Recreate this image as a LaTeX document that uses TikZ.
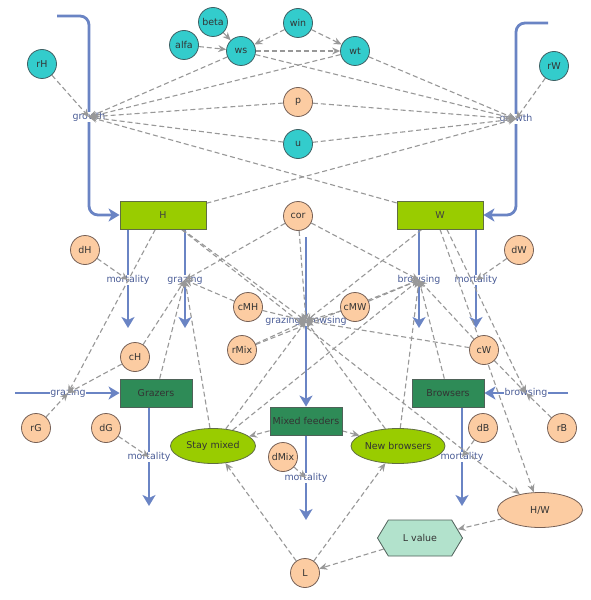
\documentclass[tikz,border=0pt]{standalone}
\usepackage{fontspec}
\setmainfont{DejaVu Sans}
\usetikzlibrary{arrows.meta,shapes.geometric,shapes.symbols}
\definecolor{teal1}{RGB}{51,204,204}
\definecolor{tealb}{RGB}{62,96,100}
\definecolor{peach}{RGB}{252,204,162}
\definecolor{peachb}{RGB}{118,96,86}
\definecolor{lime}{RGB}{153,204,0}
\definecolor{limeb}{RGB}{96,110,66}
\definecolor{dgreen}{RGB}{46,139,87}
\definecolor{dgreenb}{RGB}{78,98,88}
\definecolor{mint}{RGB}{178,226,204}
\definecolor{mintb}{RGB}{80,96,90}
\definecolor{flowc}{RGB}{106,132,196}
\definecolor{linkc}{RGB}{152,152,152}
\definecolor{lblc}{RGB}{74,92,150}
\pgfdeclarelayer{paper}
\pgfdeclarelayer{flows}
\pgfdeclarelayer{labels}
\pgfdeclarelayer{links}
\pgfsetlayers{paper,flows,labels,links,main}
\begin{document}
\begin{tikzpicture}[x=1bp,y=-1bp,
  font=\fontsize{9.5}{11}\selectfont,
  basecirc/.style={circle,line width=0.8bp,minimum size=29bp,inner sep=0pt,text=black!80},
  tcirc/.style={basecirc,draw=tealb,fill=teal1},
  pcirc/.style={basecirc,draw=peachb,fill=peach},
  stockbox/.style={rectangle,draw=limeb,fill=lime,line width=0.8bp,minimum width=86bp,minimum height=28bp,text=black!75},
  popbox/.style={rectangle,draw=dgreenb,fill=dgreen,line width=0.8bp,minimum width=72bp,minimum height=28bp,inner xsep=1bp,text=black!80},
  limeell/.style={ellipse,draw=limeb,fill=lime,line width=0.8bp,minimum width=85bp,minimum height=35bp,inner sep=0pt,text=black!80},
  peachell/.style={ellipse,draw=peachb,fill=peach,line width=0.8bp,minimum width=85bp,minimum height=35bp,inner sep=0pt,text=black!80},
  hexnode/.style={signal,signal to=west and east,signal pointer angle=118,draw=mintb,fill=mint,line width=0.8bp,minimum width=85bp,minimum height=36bp,inner sep=0pt,text=black!80},
  flow/.style={draw=flowc,line width=2.8bp,rounded corners=9bp,-{Stealth[length=11bp,width=13bp,inset=3bp]}},
  flowlbl/.style={fill=white,inner sep=0.6bp,text=lblc},
  link/.style={draw=linkc,line width=1.1bp,dash pattern=on 5bp off 3bp,-{Stealth[length=8bp,width=7bp]}}
]
\begin{pgfonlayer}{paper}
\fill[white] (0,0) rectangle (591,600);
\end{pgfonlayer}
\useasboundingbox (0,0) rectangle (591,600);

% ---------- nodes ----------
\node[tcirc] (rH) at (42,64) {rH};
\node[tcirc] (beta) at (213,22) {beta};
\node[tcirc] (alfa) at (184,45) {alfa};
\node[tcirc] (ws) at (241,51) {ws};
\node[tcirc] (win) at (298,23) {win};
\node[tcirc] (wt) at (355,51) {wt};
\node[tcirc] (rW) at (554,66) {rW};
\node[pcirc] (p) at (298,102) {p};
\node[tcirc] (u) at (298,144) {u};
\node[pcirc] (cor) at (298,216) {cor};
\node[pcirc] (dH) at (85,250) {dH};
\node[pcirc] (dW) at (519,250) {dW};
\node[pcirc] (cMH) at (248,307) {cMH};
\node[pcirc] (cMW) at (355,307) {cMW};
\node[pcirc] (rMix) at (242,350) {rMix};
\node[pcirc] (cH) at (135,357) {cH};
\node[pcirc] (cW) at (484,350) {cW};
\node[pcirc] (rG) at (36,428) {rG};
\node[pcirc] (dG) at (106,428) {dG};
\node[pcirc] (dMix) at (283,457) {dMix};
\node[pcirc] (dB) at (483,428) {dB};
\node[pcirc] (rB) at (562,428) {rB};
\node[pcirc] (L) at (305,573) {L};

\node[stockbox] (H) at (163,215) {H};
\node[stockbox] (W) at (440,215) {W};
\node[popbox] (Grazers) at (156,393) {Grazers};
\node[popbox] (MF) at (306,421) {Mixed feeders};
\node[popbox] (Browsers) at (448,393) {Browsers};
\node[limeell] (SM) at (213,446) {Stay mixed};
\node[limeell] (NB) at (398,446) {New browsers};
\node[peachell] (HW) at (540,510) {H/W};
\node[hexnode] (Lval) at (420,538) {L value};

% ---------- valve coordinates ----------
\coordinate (gL) at (89,117);
\coordinate (gR) at (516,119);
\coordinate (mortH) at (128,280);
\coordinate (grazH) at (185,280);
\coordinate (browsW) at (419,280);
\coordinate (mortW) at (476,280);
\coordinate (gb) at (306,321);
\coordinate (grazG) at (68,393);
\coordinate (mortG) at (149,457);
\coordinate (mortMF) at (306,478);
\coordinate (browsB) at (526,393);
\coordinate (mortB) at (462,457);

\coordinate (fsL) at (57,16);
\coordinate (fsR) at (548,23);
\coordinate (mHe) at (128,328);
\coordinate (gHe) at (185,328);
\coordinate (bWe) at (419,328);
\coordinate (mWe) at (476,328);
\coordinate (gbs) at (306,237);
\coordinate (fsG) at (15,393);
\coordinate (fsB) at (568,393);
\coordinate (mGe) at (149,506);
\coordinate (mMFe) at (306,520);
\coordinate (mBe) at (462,506);

% ---------- flows ----------
\begin{pgfonlayer}{flows}
\draw[flow] (fsL) -| (gL) |- (H);
\draw[flow] (fsR) -| (gR) |- (W);
\draw[flow] (mortH |- H.south) -- (mHe);
\draw[flow] (grazH |- H.south) -- (gHe);
\draw[flow] (browsW |- W.south) -- (bWe);
\draw[flow] (mortW |- W.south) -- (mWe);
\draw[flow] (gbs) -- (MF);
\draw[flow] (fsG) -- (Grazers);
\draw[flow] (mortG |- Grazers.south) -- (mGe);
\draw[flow] (MF) -- (mMFe);
\draw[flow] (fsB) -- (Browsers);
\draw[flow] (mortB |- Browsers.south) -- (mBe);
\end{pgfonlayer}

\begin{pgfonlayer}{labels}
\node[flowlbl] (gLt) at (gL) {growth};
\node[flowlbl] (gRt) at (gR) {growth};
\node[flowlbl] (mortHt) at (mortH) {mortality};
\node[flowlbl] (grazHt) at (grazH) {grazing};
\node[flowlbl] (browsWt) at (browsW) {browsing};
\node[flowlbl] (mortWt) at (mortW) {mortality};
\node[flowlbl] (gbt) at (gb) {grazing/browsing};
\node[flowlbl] (grazGt) at (grazG) {grazing};
\node[flowlbl] (mortGt) at (mortG) {mortality};
\node[flowlbl] (mortMFt) at (mortMF) {mortality};
\node[flowlbl] (browsBt) at (browsB) {browsing};
\node[flowlbl] (mortBt) at (mortB) {mortality};
\end{pgfonlayer}

% ---------- links ----------
\begin{pgfonlayer}{links}
\draw[link] (alfa) -- (ws);
\draw[link] (beta) -- (ws);
\draw[link] (win) -- (ws);
\draw[link] (win) -- (wt);
\draw[link] (ws) -- (wt);
\foreach \s in {rH,ws,wt,p,u,W} \draw[link] (\s) -- (gL);
\foreach \s in {rW,ws,wt,p,u,H} \draw[link] (\s) -- (gR);
\draw[link] (dH) -- (mortH);
\foreach \s in {H,cH,rG} \draw[link] (\s) -- (grazG);
\foreach \s in {cor,cMH,cH,Grazers,SM} \draw[link] (\s) -- (grazH);
\foreach \s in {cor,H,W,cMH,cMW,rMix,cW,SM,NB} \draw[link] (\s) -- (gb);
\foreach \s in {cor,cMW,cW,Browsers,NB,SM,rMix} \draw[link] (\s) -- (browsW);
\draw[link] (dW) -- (mortW);
\foreach \s in {W,cW,rB} \draw[link] (\s) -- (browsB);
\draw[link] (W.south) -- (HW);
\draw[link] (H) -- (HW);
\draw[link] (dG) -- (mortG);
\draw[link] (dMix) -- (mortMF);
\draw[link] (dB) -- (mortB);
\draw[link] (MF) -- (SM);
\draw[link] (MF) -- (NB);
\draw[link] (L) -- (SM);
\draw[link] (L) -- (NB);
\draw[link] (HW) -- (Lval);
\draw[link] (Lval) -- (L);
\end{pgfonlayer}
\end{tikzpicture}
\end{document}
